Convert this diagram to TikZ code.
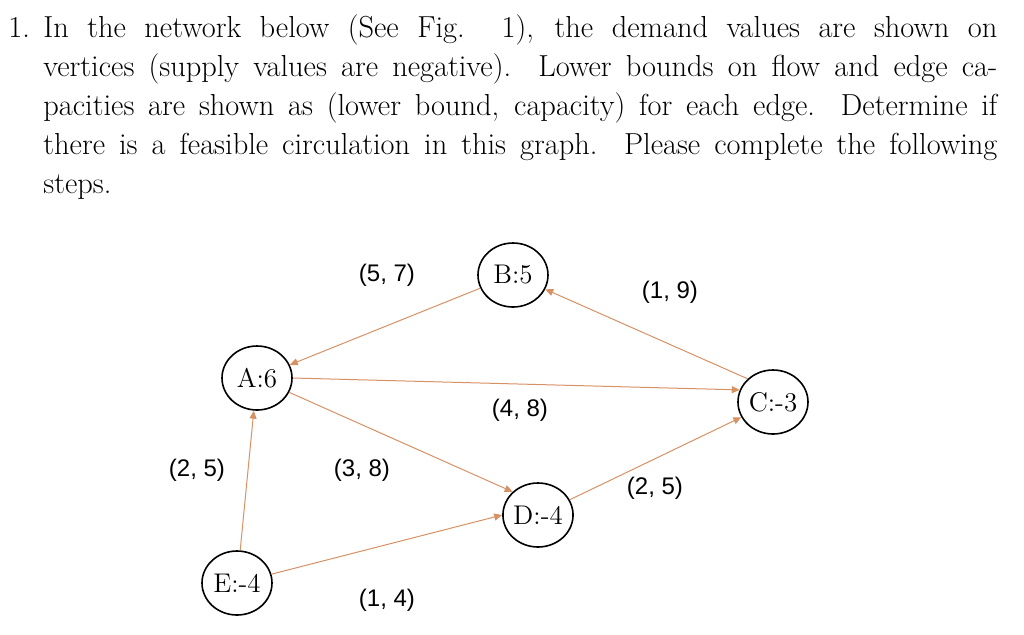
\documentclass[tikz,border=0pt]{standalone}
\usepackage{fontspec}
\newfontfamily\lab{Liberation Sans}
\usetikzlibrary{arrows.meta,shapes.geometric}
\definecolor{edge}{RGB}{214,145,100}
\begin{document}
\begin{tikzpicture}[x=0.5pt,y=-0.5pt,
  vert/.style={draw,thick,ellipse,minimum width=35pt,minimum height=32pt,inner sep=0pt,font=\fontsize{13.5}{15}\selectfont},
  arr/.style={draw=edge,line width=0.5pt,-{Triangle[length=4pt,width=3.5pt]}},
  lbl/.style={font=\lab\fontsize{12}{14}\selectfont}]
\useasboundingbox (0,0) rectangle (1024,634);
\path[font=\fontsize{15.2}{19.5}\selectfont]
  node[anchor=base west,inner sep=0pt] (n1) at (8,37) {1.}
  node[anchor=base west,inner sep=0pt] (l1) at (43,37) {\hbox to 477pt{In the network below (See Fig.\ \ 1), the demand values are shown on}}
  node[anchor=base west,inner sep=0pt] (l2) at (43,76) {\hbox to 477pt{vertices (supply values are negative). Lower bounds on flow and edge ca-}}
  node[anchor=base west,inner sep=0pt] (l3) at (43,115) {\hbox to 477pt{pacities are shown as (lower bound, capacity) for each edge. Determine if}}
  node[anchor=base west,inner sep=0pt] (l4) at (43,154) {\hbox to 477pt{there is a feasible circulation in this graph. Please complete the following}}
  node[anchor=base west,inner sep=0pt] (l5) at (43,193) {steps.};
\node[vert] (A) at (257,378) {A:6};
\node[vert] (B) at (513,275) {B:5};
\node[vert] (C) at (773,402) {C:-3};
\node[vert] (D) at (538,515) {D:-4};
\node[vert] (E) at (237,583) {E:-4};
\draw[arr] (B) -- (A);
\draw[arr] (C.north west) -- (B);
\draw[arr] (A.east) -- (C.160);
\draw[arr] (A) -- (D.north west);
\draw[arr] (D) -- (C);
\draw[arr] (E) -- (A);
\draw[arr] (E) -- (D.west);
\node[lbl] (t1) at (387,275) {(5, 7)};
\node[lbl] (t2) at (670,292) {(1, 9)};
\node[lbl] (t3) at (520,410) {(4, 8)};
\node[lbl] (t4) at (197,470) {(2, 5)};
\node[lbl] (t5) at (362,470) {(3, 8)};
\node[lbl] (t6) at (655,488) {(2, 5)};
\node[lbl] (t7) at (387,600) {(1, 4)};
\end{tikzpicture}
\end{document}
